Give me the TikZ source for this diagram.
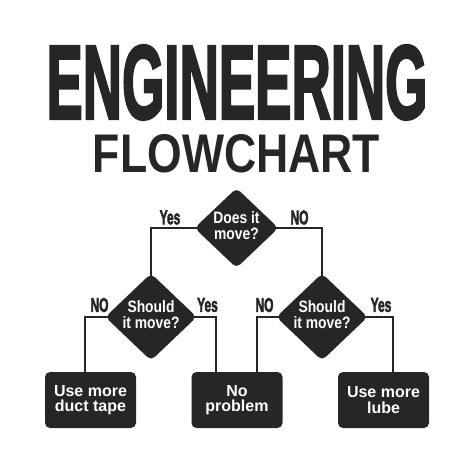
\documentclass[tikz,border=0pt]{standalone}
\usepackage{fontspec}
\setmainfont{Liberation Sans}
\newfontfamily\impactfont{Liberation Sans}[UprightFont={* Bold},FakeBold=3]
\usetikzlibrary{shapes.geometric,backgrounds}
\definecolor{ink}{RGB}{38,38,38}
\newcommand{\cond}[1]{\scalebox{0.6}[1]{\impactfont #1}}
\newcommand{\narrow}[1]{\scalebox{0.84}[1]{\begin{tabular}{@{}c@{}}#1\end{tabular}}}

\begin{document}
\begin{tikzpicture}[x=1pt,y=-1pt,
  question/.style={diamond,fill=ink,text=white,inner sep=0pt,minimum width=84pt,minimum height=80pt,aspect=1.05,rounded corners=5pt,align=center,font=\bfseries\fontsize{16.5}{15}\selectfont},
  answer/.style={rectangle,fill=ink,text=white,rounded corners=5pt,minimum width=91pt,minimum height=56pt,inner sep=0pt,align=center,font=\bfseries\fontsize{16}{15.5}\selectfont},
  branch/.style={text=ink,inner sep=0pt,font=\fontsize{20}{20}\selectfont},
  link/.style={draw=ink,line width=2.5pt}]
\useasboundingbox (0,0) rectangle (474,474);
% titles
\node [inner sep=0pt] (title) at (237,82.5) {\resizebox{381pt}{73pt}{\impactfont\color{ink}ENGINEERING}};
\node [inner sep=0pt] (subtitle) at (236.5,154) {\resizebox{287pt}{38pt}{\bfseries\color{ink}FLOWCHART}};
% questions
\node [question] (q1) at (236.5,228) {\narrow{Does it\\move?}};
\node [question] (q2) at (151,317) {\narrow{Should\\it move?}};
\node [question] (q3) at (322,317) {\narrow{Should\\it move?}};
% answers
\node [answer] (a1) at (90.5,400) {Use more\\duct tape};
\node [answer] (a2) at (237,400) {No\\problem};
\node [answer] (a3) at (383.5,400) {Use more\\lube};
\coordinate (c1) at (85,400);
\coordinate (c2) at (216,400);
\coordinate (c3) at (257,400);
\coordinate (c4) at (393,400);
% branch labels
\node [branch] (y1) at (170,217.5) {\cond{Yes}};
\node [branch] (n1) at (299.5,217.5) {\cond{NO}};
\node [branch] (n2) at (99.5,305) {\cond{NO}};
\node [branch] (y2) at (207.5,305) {\cond{Yes}};
\node [branch] (n3) at (264.5,305) {\cond{NO}};
\node [branch] (y3) at (381,305) {\cond{Yes}};
\begin{scope}[on background layer]
\draw [link] (q1.center) -| (q2.center);
\draw [link] (q1.center) -| (q3.center);
\draw [link] (q2.center) -| (c1);
\draw [link] (q2.center) -| (c2);
\draw [link] (q3.center) -| (c3);
\draw [link] (q3.center) -| (c4);
\end{scope}
\end{tikzpicture}
\end{document}
